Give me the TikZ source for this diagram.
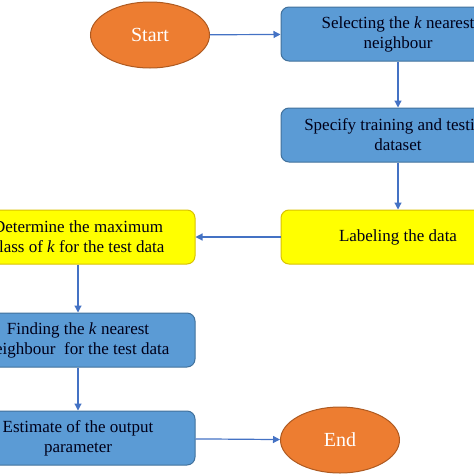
\documentclass[tikz,border=0pt]{standalone}
\usepackage{fontspec}
\setmainfont{Liberation Serif}
\usetikzlibrary{arrows.meta,positioning,shapes,shapes.geometric}
\definecolor{stepblue}{HTML}{5B9BD5}
\definecolor{stepline}{HTML}{41719C}
\definecolor{termfill}{HTML}{ED7D31}
\definecolor{termline}{HTML}{AE5A21}
\definecolor{markyellow}{HTML}{FFFF00}
\definecolor{markline}{HTML}{D9C200}
\definecolor{arrowblue}{HTML}{4472C4}

\begin{document}
\begin{tikzpicture}[x=1pt, y=1pt,
  box/.style={draw=stepline, fill=stepblue, line width=1pt, rounded corners=8pt, minimum width=234pt, minimum height=54pt, align=center, font=\fontsize{17}{20}\selectfont, text=black!90!blue},
  yellowbox/.style={box, draw=markline, fill=markyellow},
  term/.style={ellipse, draw=termline, fill=termfill, line width=1pt, minimum width=119pt, minimum height=66pt, font=\fontsize{20}{24}\selectfont, text=white},
  arr/.style={-{Triangle[length=7pt,width=7pt]}, line width=1.2pt, color=arrowblue}
]
\useasboundingbox (0,0) rectangle (474,-474);
\clip (0,0) rectangle (474,-474);
\node[term] (start) at (150,-35) {Start};
\node[box] (sel) at (398,-34) {Selecting the \textit{k} nearest\\neighbour};
\node[box] (spec) at (398,-135) {Specify training and testing\\dataset};
\node[yellowbox] (lab) at (398,-237) {Labeling the data};
\node[yellowbox] (det) at (78,-237) {Determine the maximum\\class of \textit{k} for the test data};
\node[box] (find) at (78,-340) {Finding the \textit{k} nearest\\neighbour\ \ for the test data};
\node[box] (est) at (78,-438) {Estimate of the output\\parameter};
\node[term] (end) at (340,-440) {End};
\draw[arr] (start) -- (sel);
\draw[arr] (sel) -- (spec);
\draw[arr] (spec) -- (lab);
\draw[arr] (lab) -- (det);
\draw[arr] (det) -- (find);
\draw[arr] (find) -- (est);
\draw[arr] (est) -- (end);
\end{tikzpicture}
\end{document}
